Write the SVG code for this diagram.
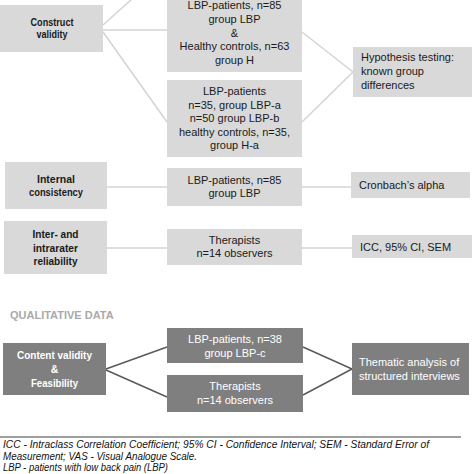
<svg xmlns="http://www.w3.org/2000/svg" width="474" height="474" viewBox="0 0 474 474">
<style>
.lb{fill:#d9d9d9}
.db{fill:#7f7f7f}
.t{font-family:"Liberation Sans",Arial,sans-serif;font-size:11px;fill:#1a1a1a}
.c{text-anchor:middle}
.b{font-weight:bold;font-size:10.5px}
.w{fill:#ffffff}
.lc{stroke:#d4d4d4;stroke-width:1.5;fill:none}
.dc{stroke:#5a5a5a;stroke-width:1.5;fill:none}
.f{font-family:"Liberation Sans",Arial,sans-serif;font-size:10px;font-style:italic;fill:#111}
</style>
<rect width="474" height="474" fill="#ffffff"/>
<g id="connectors">
<line class="lc" x1="103" y1="25" x2="133" y2="-2"/>
<line class="lc" x1="103" y1="30" x2="167" y2="30"/>
<line class="lc" x1="103" y1="32" x2="167" y2="122"/>
<line class="lc" x1="302" y1="32" x2="353" y2="72"/>
<line class="lc" x1="302" y1="122" x2="353" y2="72"/>
<line class="lc" x1="107" y1="187" x2="167" y2="187"/>
<line class="lc" x1="302" y1="187" x2="351" y2="187"/>
<line class="lc" x1="107" y1="248" x2="167" y2="248"/>
<line class="lc" x1="302" y1="248" x2="352" y2="248"/>
<line class="dc" x1="106" y1="369" x2="167" y2="347"/>
<line class="dc" x1="106" y1="370" x2="167" y2="397"/>
<line class="dc" x1="303" y1="347" x2="352" y2="369"/>
<line class="dc" x1="303" y1="395" x2="352" y2="369"/>
</g>
<g id="construct-validity">
<rect class="lb" x="0" y="5" width="103" height="47"/>
<text class="t b c" x="52" y="26" textLength="43" lengthAdjust="spacingAndGlyphs">Construct</text>
<text class="t b c" x="52" y="38" textLength="31" lengthAdjust="spacingAndGlyphs">validity</text>
</g>
<g id="group-lbp-h">
<rect class="lb" x="167" y="-2" width="135" height="74"/>
<text class="t c" x="234.5" y="9">LBP-patients, n=85</text>
<text class="t c" x="234.5" y="23">group LBP</text>
<text class="t c" x="234.5" y="37">&amp;</text>
<text class="t c" x="234.5" y="50">Healthy controls, n=63</text>
<text class="t c" x="234.5" y="64">group H</text>
</g>
<g id="group-lbp-ab">
<rect class="lb" x="167" y="80" width="135" height="77"/>
<text class="t c" x="234.5" y="95">LBP-patients</text>
<text class="t c" x="234.5" y="108.5">n=35, group LBP-a</text>
<text class="t c" x="234.5" y="122">n=50 group LBP-b</text>
<text class="t c" x="234.5" y="135.5">healthy controls, n=35,</text>
<text class="t c" x="234.5" y="149">group H-a</text>
</g>
<g id="hypothesis">
<rect class="lb" x="353" y="47" width="119" height="50"/>
<text class="t" x="361" y="61">Hypothesis testing:</text>
<text class="t" x="361" y="75">known group</text>
<text class="t" x="361" y="89">differences</text>
</g>
<g id="internal-consistency">
<rect class="lb" x="5" y="162" width="102" height="47"/>
<text class="t b c" x="56" y="183" textLength="38" lengthAdjust="spacingAndGlyphs">Internal</text>
<text class="t b c" x="56" y="196" textLength="54" lengthAdjust="spacingAndGlyphs">consistency</text>
</g>
<g id="group-lbp-ic">
<rect class="lb" x="167" y="168" width="135" height="38"/>
<text class="t c" x="234.5" y="184">LBP-patients, n=85</text>
<text class="t c" x="234.5" y="197">group LBP</text>
</g>
<g id="cronbach">
<rect class="lb" x="351" y="172" width="119" height="26"/>
<text class="t" x="359" y="189">Cronbach’s alpha</text>
</g>
<g id="reliability">
<rect class="lb" x="4" y="221" width="103" height="53"/>
<text class="t b c" x="55.5" y="238" textLength="46" lengthAdjust="spacingAndGlyphs">Inter- and</text>
<text class="t b c" x="55.5" y="251.5" textLength="45" lengthAdjust="spacingAndGlyphs">intrarater</text>
<text class="t b c" x="55.5" y="265" textLength="44" lengthAdjust="spacingAndGlyphs">reliability</text>
</g>
<g id="therapists-rel">
<rect class="lb" x="167" y="229" width="135" height="36"/>
<text class="t c" x="234.5" y="244">Therapists</text>
<text class="t c" x="234.5" y="257">n=14 observers</text>
</g>
<g id="icc">
<rect class="lb" x="352" y="235" width="120" height="23"/>
<text class="t" x="360" y="251">ICC, 95% CI, SEM</text>
</g>
<text x="10" y="319" font-family="Liberation Sans, Arial, sans-serif" font-size="11" font-weight="bold" fill="#a9a9a9">QUALITATIVE DATA</text>
<g id="content-validity">
<rect class="db" x="3" y="343" width="103" height="52"/>
<text class="t b c w" x="54.5" y="359" textLength="75" lengthAdjust="spacingAndGlyphs">Content validity</text>
<text class="t b c w" x="54.5" y="373">&amp;</text>
<text class="t b c w" x="54.5" y="387" textLength="47" lengthAdjust="spacingAndGlyphs">Feasibility</text>
</g>
<g id="group-lbp-c">
<rect class="db" x="167" y="328" width="136" height="35"/>
<text class="t c w" x="235" y="343">LBP-patients, n=38</text>
<text class="t c w" x="235" y="357">group LBP-c</text>
</g>
<g id="therapists-qual">
<rect class="db" x="167" y="375" width="136" height="37"/>
<text class="t c w" x="235" y="390">Therapists</text>
<text class="t c w" x="235" y="404">n=14 observers</text>
</g>
<g id="thematic">
<rect class="db" x="352" y="343" width="117" height="52"/>
<text class="t w" x="359" y="366">Thematic analysis of</text>
<text class="t w" x="359" y="380">structured interviews</text>
</g>
<line x1="0" y1="437" x2="461" y2="437" stroke="#7f7f7f" stroke-width="1.5"/>
<text class="f" x="3" y="448" textLength="426" lengthAdjust="spacingAndGlyphs">ICC - Intraclass Correlation Coefficient; 95% CI - Confidence Interval; SEM - Standard Error of</text>
<text class="f" x="3" y="460" textLength="194" lengthAdjust="spacingAndGlyphs">Measurement; VAS - Visual Analogue Scale.</text>
<text class="f" x="3" y="471" textLength="165" lengthAdjust="spacingAndGlyphs">LBP - patients with low back pain (LBP)</text>
</svg>
